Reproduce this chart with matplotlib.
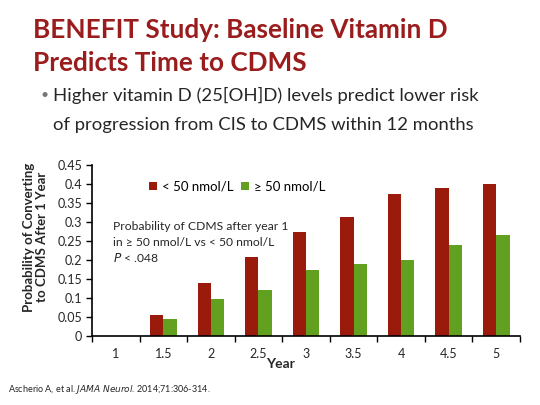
import matplotlib.pyplot as plt
import numpy as np

years = ["1", "1.5", "2", "2.5", "3", "3.5", "4", "4.5", "5"]
low_vitd = [0, 0.055, 0.14, 0.208, 0.275, 0.312, 0.375, 0.39, 0.40]
high_vitd = [0, 0.045, 0.097, 0.12, 0.175, 0.19, 0.20, 0.24, 0.265]
yticks = [0, 0.05, 0.1, 0.15, 0.2, 0.25, 0.3, 0.35, 0.4, 0.45]
ytick_labels = ["0", "0.05", "0.1", "0.15", "0.2", "0.25", "0.3", "0.35", "0.4", "0.45"]

RED = "#9A1A0C"
GREEN = "#62A01F"
TITLE = "#9B1C1C"
TXT = "#262626"
FONT = ["Lato", "DejaVu Sans"]

plt.rcParams["font.family"] = FONT

fig = plt.figure(figsize=(5.4, 4.05), dpi=100)
W, H = 540, 405

# axes box in pixels: left 92, right 520, top 165, bottom 336
ax = fig.add_axes([92 / W, 1 - 336 / H, (520 - 92) / W, (336 - 165) / H])

x = np.arange(len(years))
bw = 0.28
ax.bar(x - bw / 2, low_vitd, bw, color=RED, label="< 50 nmol/L")
ax.bar(x + bw / 2, high_vitd, bw, color=GREEN, label="\u2265 50 nmol/L")

ax.set_xlim(-0.5, len(years) - 0.5)
ax.set_ylim(0, 0.45)
ax.set_yticks(yticks)
ax.set_yticklabels(ytick_labels, fontsize=9, color=TXT)
ax.set_xticks(x)
ax.set_xticklabels(years, fontsize=9, color=TXT)
ax.set_xticks(np.arange(-0.5, len(years)), minor=True)
ax.tick_params(axis="x", which="major", length=0, pad=9)
ax.tick_params(axis="x", which="minor", length=4, direction="out", width=1)
ax.tick_params(axis="y", length=4, direction="out", width=1, pad=3)
for s in ["top", "right"]:
    ax.spines[s].set_visible(False)
ax.spines["left"].set_linewidth(1.2)
ax.spines["bottom"].set_linewidth(1.2)

ax.legend(loc="upper left", bbox_to_anchor=(0.12, 0.94), ncol=2, frameon=False,
          fontsize=9.5, handlelength=0.6, handleheight=0.6, handletextpad=0.4,
          columnspacing=0.6, borderaxespad=0)

fig.text(113 / W, 1 - 227 / H, "Probability of CDMS after year 1", fontsize=8.7,
         va="center", ha="left", color=TXT)
fig.text(113 / W, 1 - 242 / H, "in \u2265 50 nmol/L vs < 50 nmol/L", fontsize=8.7,
         va="center", ha="left", color=TXT)
fig.text(113 / W, 1 - 257 / H, "$P$ < .048", fontsize=8.7,
         va="center", ha="left", color=TXT)

fig.text(280 / W, 1 - 364 / H, "Year", fontsize=10, fontweight="bold",
         ha="center", va="center", color=TXT)
fig.text(36 / W, 1 - 237 / H, "Probability of Converting\nto CDMS After 1 Year",
         fontsize=9.5, fontweight="bold", rotation=90, ha="center", va="center",
         linespacing=1.1, color=TXT)

# slide title and bullet
fig.text(33 / W, 1 - 30 / H, "BENEFIT Study: Baseline Vitamin D", fontsize=18.8,
         fontweight="bold", color=TITLE, ha="left", va="center")
fig.text(33 / W, 1 - 63 / H, "Predicts Time to CDMS", fontsize=18.8,
         fontweight="bold", color=TITLE, ha="left", va="center")
fig.text(41 / W, 1 - 95 / H, "\u2022", fontsize=10, color="#777777", ha="left", va="center")
fig.text(53 / W, 1 - 95 / H, "Higher vitamin D (25[OH]D) levels predict lower risk",
         fontsize=13.3, color=TXT, ha="left", va="center")
fig.text(53 / W, 1 - 125 / H, "of progression from CIS to CDMS within 12 months",
         fontsize=13.3, color=TXT, ha="left", va="center")

fig.text(8 / W, 1 - 389 / H, "Ascherio A, et al. $\\it{JAMA\\ Neurol}$. 2014;71:306-314.",
         fontsize=6.5, color=TXT, ha="left", va="center")

fig.savefig("out.png", dpi=100)
